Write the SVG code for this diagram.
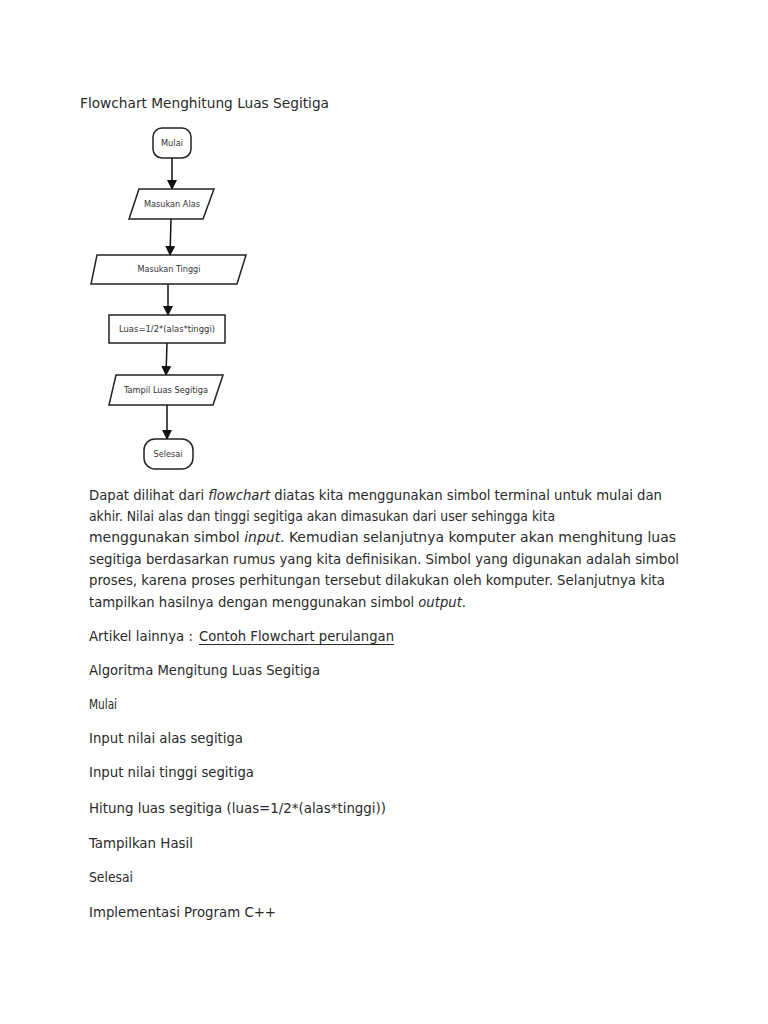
<svg xmlns="http://www.w3.org/2000/svg" width="768" height="1024" viewBox="0 0 768 1024">
<defs>
<style>
.t{font-family:"DejaVu Sans Condensed","DejaVu Sans",sans-serif;font-size:14px;fill:#2a2a2a}
.n{font-family:"DejaVu Sans Condensed","DejaVu Sans",sans-serif;font-size:8px;fill:#333;text-anchor:middle}
.s{fill:#fff;stroke:#222;stroke-width:1.5}
.c{stroke:#111;stroke-width:1.5;fill:none;marker-end:url(#ah)}
</style>
<marker id="ah" markerWidth="10" markerHeight="11" refX="9" refY="5" orient="auto" markerUnits="userSpaceOnUse" viewBox="0 0 10 10">
<path d="M0,0 L10,5 L0,10 Z" fill="#111"/>
</marker>
</defs>
<rect width="768" height="1024" fill="#fff"/>
<text class="t" x="80" y="108" textLength="249" lengthAdjust="spacingAndGlyphs">Flowchart Menghitung Luas Segitiga</text>

<g id="connectors">
<line class="c" x1="172" y1="158" x2="172" y2="189"/>
<line class="c" x1="171" y1="219" x2="170" y2="255"/>
<line class="c" x1="168" y1="284" x2="168" y2="315"/>
<line class="c" x1="167" y1="343" x2="166" y2="375"/>
<line class="c" x1="167" y1="405" x2="167" y2="439"/>
</g>

<g id="mulai">
<rect class="s" x="153" y="128" width="38" height="30" rx="9"/>
<text class="n" x="172" y="146" textLength="22" lengthAdjust="spacingAndGlyphs">Mulai</text>
</g>
<g id="masukan-alas">
<polygon class="s" points="139,189 214,189 203,219 129,219"/>
<text class="n" x="172" y="207" textLength="56" lengthAdjust="spacingAndGlyphs">Masukan Alas</text>
</g>
<g id="masukan-tinggi">
<polygon class="s" points="97,255 246,255 237,284 91,284"/>
<text class="n" x="169" y="272" textLength="63" lengthAdjust="spacingAndGlyphs">Masukan Tinggi</text>
</g>
<g id="proses">
<rect class="s" x="109" y="315" width="116" height="28"/>
<text class="n" x="167" y="332" textLength="96" lengthAdjust="spacingAndGlyphs">Luas=1/2*(alas*tinggi)</text>
</g>
<g id="tampil">
<polygon class="s" points="116,375 223,375 213,405 109,405"/>
<text class="n" x="166" y="393" textLength="84" lengthAdjust="spacingAndGlyphs">Tampil Luas Segitiga</text>
</g>
<g id="selesai">
<rect class="s" x="144" y="439" width="49" height="30" rx="11"/>
<text class="n" x="168" y="457" textLength="29" lengthAdjust="spacingAndGlyphs">Selesai</text>
</g>

<g id="paragraph">
<text class="t" x="89" y="500" textLength="573" lengthAdjust="spacingAndGlyphs">Dapat dilihat dari <tspan font-style="italic">flowchart</tspan> diatas kita menggunakan simbol terminal untuk mulai dan</text>
<text class="t" x="89" y="521" textLength="466" lengthAdjust="spacingAndGlyphs">akhir. Nilai alas dan tinggi segitiga akan dimasukan dari user sehingga kita</text>
<text class="t" x="89" y="542" textLength="587" lengthAdjust="spacingAndGlyphs">menggunakan simbol <tspan font-style="italic">input</tspan>. Kemudian selanjutnya komputer akan menghitung luas</text>
<text class="t" x="89" y="564" textLength="590" lengthAdjust="spacingAndGlyphs">segitiga berdasarkan rumus yang kita definisikan. Simbol yang digunakan adalah simbol</text>
<text class="t" x="89" y="585" textLength="576" lengthAdjust="spacingAndGlyphs">proses, karena proses perhitungan tersebut dilakukan oleh komputer. Selanjutnya kita</text>
<text class="t" x="89" y="607" textLength="377" lengthAdjust="spacingAndGlyphs">tampilkan hasilnya dengan menggunakan simbol <tspan font-style="italic">output</tspan>.</text>
</g>

<g id="lines">
<text class="t" x="89" y="641" textLength="104" lengthAdjust="spacingAndGlyphs">Artikel lainnya :</text>
<text class="t" x="199" y="641" textLength="195" lengthAdjust="spacingAndGlyphs">Contoh Flowchart perulangan</text>
<line x1="199" y1="644.5" x2="394" y2="644.5" stroke="#2a2a2a" stroke-width="1"/>
<text class="t" x="89" y="675" textLength="231" lengthAdjust="spacingAndGlyphs">Algoritma Mengitung Luas Segitiga</text>
<text class="t" x="89" y="709" textLength="28" lengthAdjust="spacingAndGlyphs">Mulai</text>
<text class="t" x="89" y="743" textLength="154" lengthAdjust="spacingAndGlyphs">Input nilai alas segitiga</text>
<text class="t" x="89" y="777" textLength="165" lengthAdjust="spacingAndGlyphs">Input nilai tinggi segitiga</text>
<text class="t" x="89" y="813" textLength="297" lengthAdjust="spacingAndGlyphs">Hitung luas segitiga (luas=1/2*(alas*tinggi))</text>
<text class="t" x="89" y="848" textLength="104" lengthAdjust="spacingAndGlyphs">Tampilkan Hasil</text>
<text class="t" x="89" y="882" textLength="44" lengthAdjust="spacingAndGlyphs">Selesai</text>
<text class="t" x="89" y="917" textLength="187" lengthAdjust="spacingAndGlyphs">Implementasi Program C++</text>
</g>
</svg>
